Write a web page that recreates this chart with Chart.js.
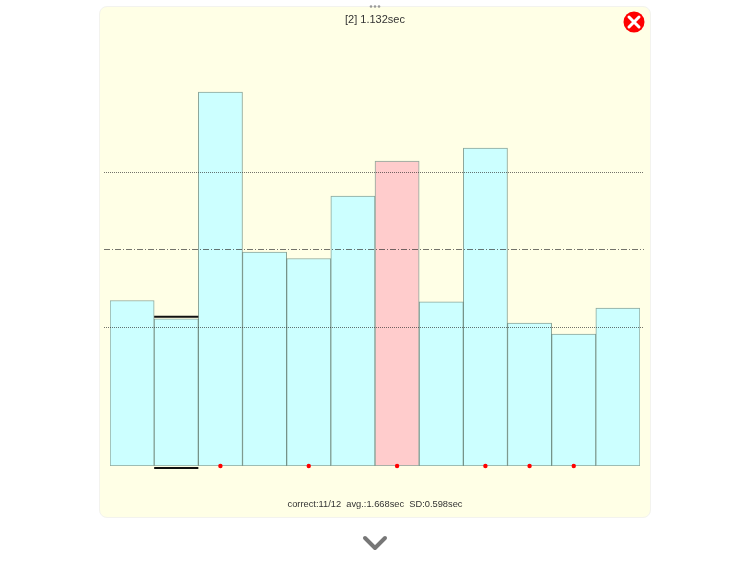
<!DOCTYPE html>
<html lang="en">
<head>
    <meta charset="UTF-8">
    <title>Reaction times</title>
    <script src="https://cdn.jsdelivr.net/npm/chart.js"></script>
    <style>
        html, body { margin: 0; padding: 0; background: #fff; overflow: hidden; }
        body { width: 750px; height: 562px; position: relative; font-family: "Liberation Sans", sans-serif; color: #333; }
        .panel {
            position: absolute; left: 99px; top: 6px; width: 550px; height: 510px;
            background: #ffffe6; border: 1px solid #f3f3ee; border-radius: 8px;
        }
        #chart { position: absolute; left: 0; top: 0; }
        .label { position: absolute; left: 100px; width: 550px; text-align: center; white-space: pre; }
        #title { top: 12px; font-size: 11px; line-height: 15px; }
        #summary { top: 498px; font-size: 9.3px; line-height: 13px; }
        svg { position: absolute; left: 0; top: 0; }
    </style>
</head>
<body>
    <div class="panel"></div>
    <canvas id="chart" width="750" height="562"></canvas>
    <div class="label" id="title"></div>
    <div class="label" id="summary"></div>
    <svg width="750" height="562">
        <!-- drag handle -->
        <circle cx="371" cy="6.5" r="1.3" fill="#999"/>
        <circle cx="375" cy="6.5" r="1.3" fill="#999"/>
        <circle cx="379" cy="6.5" r="1.3" fill="#999"/>
        <!-- close button -->
        <circle cx="634" cy="22" r="10.5" fill="#ff0000"/>
        <path d="M629 17 L639 27 M639 17 L629 27" stroke="#fff" stroke-width="3" stroke-linecap="round"/>
        <!-- chevron -->
        <path d="M365 538 L375 548 L385 538" fill="none" stroke="#777" stroke-width="4" stroke-linecap="round" stroke-linejoin="round"/>
    </svg>

    <script>
        const trials = ['1', '2', '3', '4', '5', '6', '7', '8', '9', '10', '11', '12'];
        const times = [1.273, 1.132, 2.877, 1.646, 1.596, 2.077, 2.346, 1.262, 2.446, 1.100, 1.015, 1.215];
        const redDots = ['3', '5', '7', '9', '10', '11'];
        const wrongTrial = '7';
        const currentTrial = '2';
        const correctText = 'correct:11/12';
        const avg = 1.668;
        const sd = 0.598;

        document.getElementById('title').textContent = '[' + currentTrial + '] ' + times[trials.indexOf(currentTrial)].toFixed(3) + 'sec';
        document.getElementById('summary').textContent = correctText + '  avg.:' + avg.toFixed(3) + 'sec  SD:' + sd.toFixed(3) + 'sec';

        // avg +/- SD lines and the marker round the current bar
        const overlay = {
            id: 'overlay',
            afterDatasetsDraw(chart) {
                const { ctx, scales: { x, y } } = chart;
                const hLine = (value, dash) => {
                    ctx.save();
                    ctx.strokeStyle = 'rgba(40,40,40,0.65)';
                    ctx.lineWidth = 1;
                    ctx.setLineDash(dash);
                    ctx.beginPath();
                    const py = Math.round(y.getPixelForValue(value) + 0.2) + 0.5;
                    ctx.moveTo(x.left - 6, py);
                    ctx.lineTo(x.right + 4, py);
                    ctx.stroke();
                    ctx.restore();
                };
                hLine(avg + sd, [1, 1]);
                hLine(avg, [6, 2, 1, 2]);
                hLine(avg - sd, [1, 1]);

                const i = trials.indexOf(currentTrial);
                const half = (x.right - x.left) / trials.length / 2;
                const cx = x.getPixelForValue(i);
                ctx.save();
                ctx.strokeStyle = '#111';
                ctx.lineWidth = 2;
                [y.getPixelForValue(times[i]) - 2, y.getPixelForValue(0) + 2].forEach(py => {
                    ctx.beginPath();
                    ctx.moveTo(cx - half, py);
                    ctx.lineTo(cx + half, py);
                    ctx.stroke();
                });
                ctx.restore();
            }
        };

        new Chart(document.getElementById('chart'), {
            data: {
                labels: trials,
                datasets: [
                    {
                        type: 'line',
                        data: trials.map(t => redDots.includes(t) ? 0 : null),
                        showLine: false,
                        pointRadius: 2.2,
                        pointBackgroundColor: '#ff0000',
                        pointBorderWidth: 0,
                        clip: false,
                        order: 0
                    },
                    {
                        type: 'bar',
                        data: times,
                        backgroundColor: trials.map(t => t === wrongTrial ? '#ffcccc' : '#ccffff'),
                        borderColor: 'rgba(30,80,80,0.5)',
                        borderWidth: 1,
                        borderSkipped: false,
                        barPercentage: 1,
                        categoryPercentage: 1,
                        order: 1
                    }
                ]
            },
            options: {
                responsive: false,
                animation: false,
                layout: { padding: { left: 110, right: 110, top: 30, bottom: 96 } },
                plugins: { legend: { display: false }, title: { display: false }, tooltip: { enabled: false } },
                scales: {
                    x: { display: false },
                    y: { display: false, min: 0, max: 3.354 }
                }
            },
            plugins: [overlay]
        });
    </script>
</body>
</html>
